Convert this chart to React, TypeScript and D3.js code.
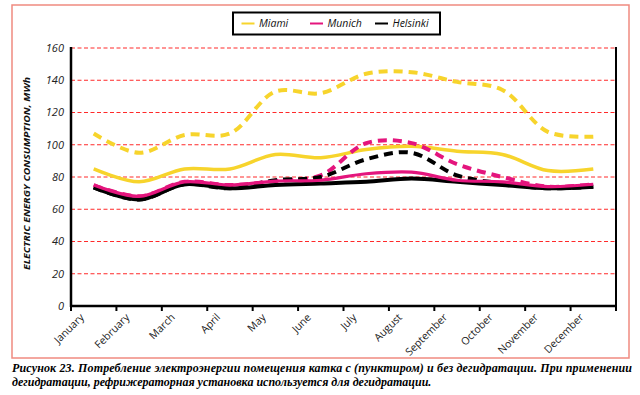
import React from "react";
import * as d3 from "d3";

const months = ["January","February","March","April","May","June","July","August","September","October","November","December"];
const yTicks = [0, 20, 40, 60, 80, 100, 120, 140, 160];

const miamiSolid = [85, 77, 85, 85, 94, 92, 97, 99, 96, 94, 84, 85];
const miamiDashed = [107, 95, 106, 107, 133, 132, 144, 145, 139, 134, 108, 105];
const munichSolid = [75, 68, 77, 75, 77.5, 78, 82, 83, 78, 77, 74, 75.5];
const munichDashed = [75, 68, 77, 75, 77.5, 81, 101, 101, 88, 80, 74, 75.5];
const helsinkiSolid = [73.5, 66, 75.5, 73, 75, 76, 77, 79, 77, 75, 73, 74];
const helsinkiDashed = [73.5, 66, 75.5, 73, 78, 80, 91, 95, 81, 76, 73, 74];

const legendNames = ["Miami", "Munich", "Helsinki"];
const colors = ["#F7D42C", "#E4157D", "#000000"];

const captionLine1 = "Рисунок 23. Потребление электроэнергии помещения катка с (пунктиром) и без дегидратации. При применении";
const captionLine2 = "дегидратации, рефрижераторная установка используется для дегидратации.";

export default function App() {
  const left = 71, right = 616, top = 48, bottom = 306;
  const x = d3.scaleBand<string>().domain(months).range([left, right]);
  const y = d3.scaleLinear().domain([0, 160]).range([bottom, top]);
  const cx = (i: number) => (x(months[i]) as number) + x.bandwidth() / 2;
  const line = d3.line<number>().x((_, i) => cx(i)).y((v) => y(v)).curve(d3.curveCatmullRom.alpha(0.5));

  const series = [
    { data: miamiDashed, color: colors[0], dashed: true, w: 4 },
    { data: miamiSolid, color: colors[0], dashed: false, w: 3.5 },
    { data: munichDashed, color: colors[1], dashed: true, w: 4 },
    { data: helsinkiDashed, color: colors[2], dashed: true, w: 4 },
    { data: helsinkiSolid, color: colors[2], dashed: false, w: 4 },
    { data: munichSolid, color: colors[1], dashed: false, w: 3.2 },
  ];

  const tickXs = months.map((m) => x(m) as number).concat([right]);
  const legendX = [241.5, 310, 375];
  const sans = "'Open Sans', 'DejaVu Sans', sans-serif";
  const serif = "'Liberation Serif', 'Times New Roman', serif";

  return (
    <svg width={640} height={395} style={{ position: "absolute", left: 0, top: 0, background: "#fff" }} xmlns="http://www.w3.org/2000/svg">
      <rect x={0} y={0} width={640} height={395} fill="#fff" />
      <rect x={12} y={5} width={617} height={353} fill="none" stroke="#F08A80" strokeWidth={1.5} />

      {yTicks.filter((t) => t > 0).map((t) => (
        <line key={t} x1={left} x2={right} y1={y(t)} y2={y(t)} stroke="#FF2A2A" strokeWidth={1} strokeDasharray="4,2.5" />
      ))}

      {series.map((s, i) => (
        <path key={i} d={line(s.data) || ""} fill="none" stroke={s.color} strokeWidth={s.w}
          strokeDasharray={s.dashed ? "9,6" : undefined} strokeLinejoin="round" />
      ))}

      <line x1={left} x2={left} y1={top - 1} y2={bottom + 1} stroke="#000" strokeWidth={2.5} />
      <line x1={right} x2={right} y1={top - 1} y2={bottom + 1} stroke="#000" strokeWidth={2} />
      <line x1={left - 1} x2={right + 1} y1={bottom} y2={bottom} stroke="#000" strokeWidth={2.5} />
      {tickXs.map((t, i) => (
        <line key={i} x1={t} x2={t} y1={bottom} y2={bottom + 5} stroke="#000" strokeWidth={2} />
      ))}

      {yTicks.map((t) => (
        <text key={t} x={64} y={y(t)} dy="0.35em" textAnchor="end" fontFamily={sans} fontStyle="italic" fontSize={11} fill="#222">{t}</text>
      ))}

      {months.map((m, i) => (
        <text key={m} transform={`translate(${cx(i) - 9},${bottom + 12}) rotate(-45)`} textAnchor="end"
          fontFamily={sans} fontSize={10.5} fill="#222">{m}</text>
      ))}

      <text transform={`translate(30,${(77 + 270) / 2}) rotate(-90)`} textAnchor="middle" fontFamily={sans}
        fontWeight="bold" fontStyle="italic" fontSize={9.5} fill="#111" textLength={193} lengthAdjust="spacingAndGlyphs">ELECTRIC ENERGY CONSUMPTION, MWh</text>

      <rect x={233} y={12.5} width={207} height={22} fill="#fff" stroke="#000" strokeWidth={2} />
      {legendNames.map((n, i) => (
        <g key={n}>
          <line x1={legendX[i]} x2={legendX[i] + 13} y1={23.5} y2={23.5} stroke={colors[i]} strokeWidth={2} />
          <text x={legendX[i] + 17.5} y={23.5} dy="0.35em" fontFamily={sans} fontStyle="italic" fontSize={10.5} fill="#111">{n}</text>
        </g>
      ))}

      <text x={12} y={372} fontFamily={serif} fontWeight="bold" fontStyle="italic"
        fontSize={12} fill="#000" textLength={620} lengthAdjust="spacing">{captionLine1}</text>
      <text x={12} y={386} fontFamily={serif} fontWeight="bold" fontStyle="italic"
        fontSize={12} fill="#000">{captionLine2}</text>
    </svg>
  );
}
